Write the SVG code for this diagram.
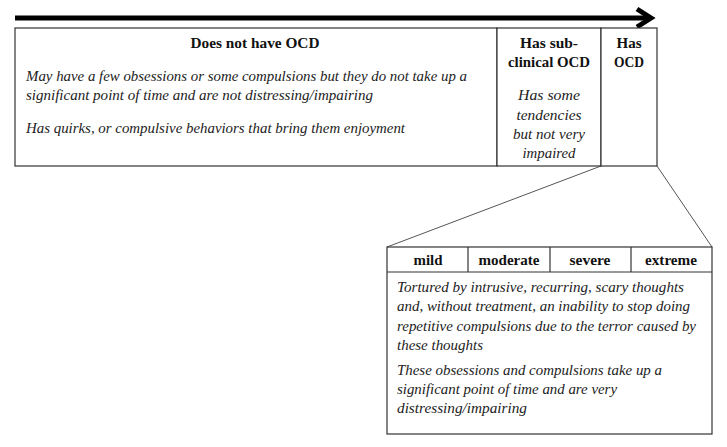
<svg xmlns="http://www.w3.org/2000/svg" width="727" height="447" viewBox="0 0 727 447" font-family="Liberation Serif, Times New Roman, DejaVu Serif, serif">
<style>
.box{fill:#fff;stroke:#333;stroke-width:1.2}
.div{stroke:#333;stroke-width:1.2}
.b{font-weight:bold;font-size:15px;fill:#111;text-anchor:middle}
.i{font-style:italic;font-size:15px;fill:#222}
.ic{font-style:italic;font-size:15px;fill:#222;text-anchor:middle}
.zoom{stroke:#555;stroke-width:1;fill:none}
</style>
<rect width="727" height="447" fill="#fff"/>
<g id="axis">
<line x1="15" y1="18" x2="649" y2="18" stroke="#000" stroke-width="5"/>
<polyline points="637,9 651,18 637,27" fill="none" stroke="#000" stroke-width="5" stroke-linejoin="miter"/>
</g>
<g id="connectors">
<line class="zoom" x1="601" y1="166" x2="387" y2="247"/>
<line class="zoom" x1="657" y1="166" x2="712" y2="247"/>
</g>
<g id="no-ocd" font-family="Liberation Serif, Times New Roman, DejaVu Serif, serif">
<rect class="box" x="15" y="28" width="482" height="138"/>
<text class="b" x="255" y="48" textLength="129" lengthAdjust="spacingAndGlyphs">Does not have OCD</text>
<text class="i" x="26" y="81" textLength="441" lengthAdjust="spacingAndGlyphs">May have a few obsessions or some compulsions but they do not take up a</text>
<text class="i" x="26" y="100" textLength="347" lengthAdjust="spacingAndGlyphs">significant point of time and are not distressing/impairing</text>
<text class="i" x="26" y="133" textLength="379" lengthAdjust="spacingAndGlyphs">Has quirks, or compulsive behaviors that bring them enjoyment</text>
</g>
<g id="subclinical" font-family="Liberation Serif, Times New Roman, DejaVu Serif, serif">
<rect class="box" x="497" y="28" width="104" height="138"/>
<text class="b" x="549" y="48" textLength="58" lengthAdjust="spacingAndGlyphs">Has sub-</text>
<text class="b" x="549" y="67" textLength="82" lengthAdjust="spacingAndGlyphs">clinical OCD</text>
<text class="ic" x="549" y="100" textLength="62" lengthAdjust="spacingAndGlyphs">Has some</text>
<text class="ic" x="549" y="120" textLength="65" lengthAdjust="spacingAndGlyphs">tendencies</text>
<text class="ic" x="549" y="139" textLength="72" lengthAdjust="spacingAndGlyphs">but not very</text>
<text class="ic" x="549" y="158" textLength="53" lengthAdjust="spacingAndGlyphs">impaired</text>
</g>
<g id="has-ocd" font-family="Liberation Serif, Times New Roman, DejaVu Serif, serif">
<rect class="box" x="601" y="28" width="56" height="138"/>
<text class="b" x="629" y="48" textLength="25" lengthAdjust="spacingAndGlyphs">Has</text>
<text class="b" x="629" y="67" textLength="30" lengthAdjust="spacingAndGlyphs">OCD</text>
</g>
<g id="ocd-detail" font-family="Liberation Serif, Times New Roman, DejaVu Serif, serif">
<rect class="box" x="387" y="247" width="325" height="187"/>
<line class="div" x1="387" y1="272" x2="712" y2="272"/>
<line class="div" x1="468" y1="247" x2="468" y2="272"/>
<line class="div" x1="550" y1="247" x2="550" y2="272"/>
<line class="div" x1="631" y1="247" x2="631" y2="272"/>
<text class="b" x="428" y="265" textLength="29" lengthAdjust="spacingAndGlyphs">mild</text>
<text class="b" x="509" y="265" textLength="61" lengthAdjust="spacingAndGlyphs">moderate</text>
<text class="b" x="590" y="265" textLength="41" lengthAdjust="spacingAndGlyphs">severe</text>
<text class="b" x="671" y="265" textLength="52" lengthAdjust="spacingAndGlyphs">extreme</text>
<text class="i" x="397" y="292" textLength="287" lengthAdjust="spacingAndGlyphs">Tortured by intrusive, recurring, scary thoughts</text>
<text class="i" x="397" y="311" textLength="293" lengthAdjust="spacingAndGlyphs">and, without treatment, an inability to stop doing</text>
<text class="i" x="397" y="331" textLength="299" lengthAdjust="spacingAndGlyphs">repetitive compulsions due to the terror caused by</text>
<text class="i" x="397" y="350" textLength="86" lengthAdjust="spacingAndGlyphs">these thoughts</text>
<text class="i" x="397" y="375" textLength="265" lengthAdjust="spacingAndGlyphs">These obsessions and compulsions take up a</text>
<text class="i" x="397" y="394" textLength="220" lengthAdjust="spacingAndGlyphs">significant point of time and are very</text>
<text class="i" x="397" y="413" textLength="130" lengthAdjust="spacingAndGlyphs">distressing/impairing</text>
</g>
</svg>
